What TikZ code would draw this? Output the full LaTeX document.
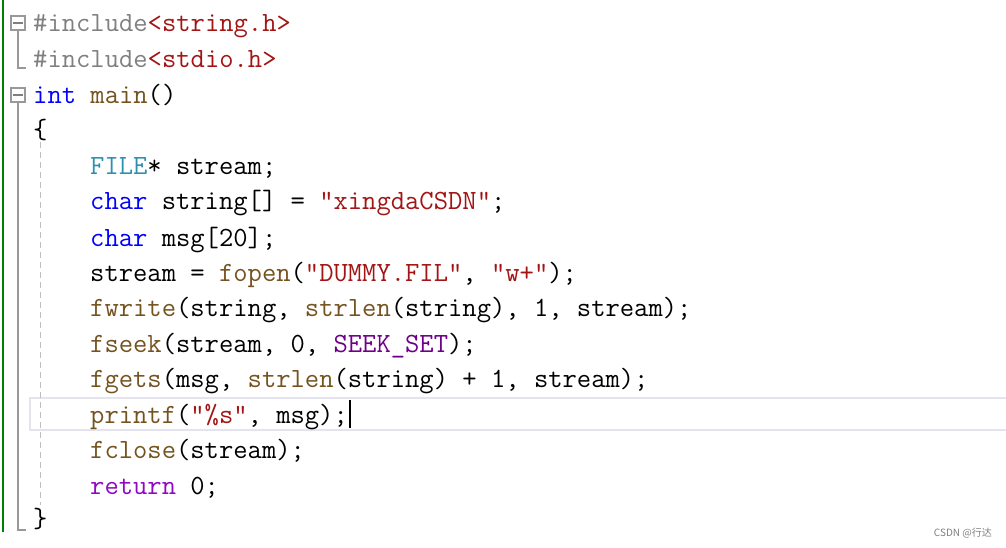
\documentclass[tikz,border=0pt]{standalone}
\usepackage{fontspec}
\newfontfamily\cjk{Noto Sans CJK SC}
\definecolor{pp}{RGB}{128,128,128}
\definecolor{st}{RGB}{163,21,21}
\definecolor{kw}{RGB}{0,0,255}
\definecolor{fn}{RGB}{116,83,31}
\definecolor{ty}{RGB}{43,145,175}
\definecolor{ma}{RGB}{111,0,138}
\definecolor{rt}{RGB}{143,8,196}
\definecolor{gb}{RGB}{0,128,0}
\begin{document}
\begin{tikzpicture}[x=1pt,y=-1pt,
  code/.style={anchor=base west,inner sep=0pt,font=\fontsize{27.8}{30}\ttfamily},
  fold/.style={draw=gray!80,line width=1.2pt,fill=white,minimum size=14pt,inner sep=0pt}]
\useasboundingbox (0,0) rectangle (1006,548);
\fill[white] (0,0) rectangle (1006,548);
\draw[gb,line width=1.6pt] (3,0) -- (3,532);
% current line highlight
\draw[draw={rgb,255:red,228;green,228;blue,240},line width=1.5pt] (30,398) rectangle (1010,430);
% fold guides
\draw[gray!80,line width=1.2pt] (18,30) -- (18,68) -- (26,68);
\draw[gray!80,line width=1.2pt] (18,102) -- (18,530) -- (26,530);
\node[fold] (f1) at (18,23) {};
\draw[gray,line width=1.2pt] (13,23) -- (23,23);
\node[fold] (f2) at (18,95) {};
\draw[gray,line width=1.2pt] (13,95) -- (23,95);
\draw[gray!50,line width=1pt,dash pattern=on 6pt off 4pt] (40,142) -- (40,505);
\newcommand\cl[3]{\node[code] at (#1,#2+9) {#3};}
\cl{33}{23}{\textcolor{pp}{\#include}\textcolor{st}{<string.h>}}
\cl{33}{59}{\textcolor{pp}{\#include}\textcolor{st}{<stdio.h>}}
\cl{33}{95}{\textcolor{kw}{int} \textcolor{fn}{main}()}
\cl{33}{130}{\{}
\cl{90}{166}{\textcolor{ty}{FILE}* stream;}
\cl{90}{201}{\textcolor{kw}{char} string[] = \textcolor{st}{"xingdaCSDN"};}
\cl{90}{237}{\textcolor{kw}{char} msg[20];}
\cl{90}{272}{stream = \textcolor{fn}{fopen}(\textcolor{st}{"DUMMY.FIL"}, \textcolor{st}{"w+"});}
\cl{90}{307}{\textcolor{fn}{fwrite}(string, \textcolor{fn}{strlen}(string), 1, stream);}
\cl{90}{343}{\textcolor{fn}{fseek}(stream, 0, \textcolor{ma}{SEEK\_SET});}
\cl{90}{378}{\textcolor{fn}{fgets}(msg, \textcolor{fn}{strlen}(string) + 1, stream);}
\cl{90}{414}{\textcolor{fn}{printf}(\textcolor{st}{"\%s"}, msg);}
\cl{90}{449}{\textcolor{fn}{fclose}(stream);}
\cl{90}{485}{\textcolor{rt}{return} 0;}
\cl{33}{518}{\}}
\draw[black,line width=1.5pt] (350,400) -- (350,428);
\node[anchor=east,inner sep=0pt,text=gray,font=\fontsize{10}{12}\selectfont\cjk] (wm) at (992,533) {CSDN @行达};
\end{tikzpicture}
\end{document}
